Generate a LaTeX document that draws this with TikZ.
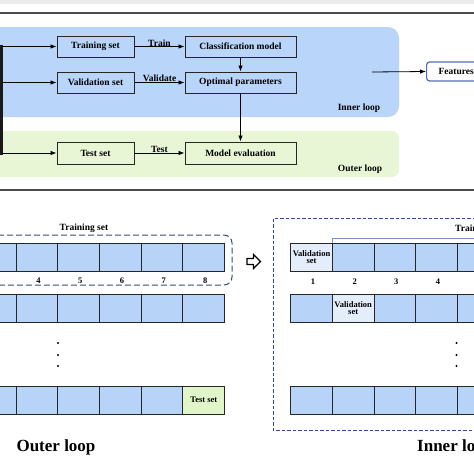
\documentclass[tikz,border=0pt]{standalone}
\usepackage{fontspec}
\setmainfont{Liberation Serif}
\usetikzlibrary{arrows.meta}
\definecolor{regblue}{HTML}{B9D5F9}
\definecolor{reggreen}{HTML}{E8F6D6}
\definecolor{cellblue}{HTML}{B7D3F7}
\definecolor{celllight}{HTML}{E4EEFB}
\definecolor{cellgreen}{HTML}{E0F5C8}
\definecolor{dashblue}{HTML}{3A4A7A}
\definecolor{innerblue}{HTML}{2A4AA0}
\definecolor{brk}{HTML}{7D8FC0}
\begin{document}
\begin{tikzpicture}[x=1pt,y=-1pt,
  box/.style={draw=black!85, line width=1pt, minimum height=21pt, inner sep=0pt,
    font=\bfseries\fontsize{9.5}{11}\selectfont},
  lbl/.style={font=\bfseries\fontsize{9.5}{11}\selectfont, inner sep=1pt},
  arr/.style={-{Latex[length=6pt,width=4.5pt]}, line width=0.8pt, black},
  cell/.style={draw=black!85, line width=1pt, fill=cellblue, minimum width=41.67pt,
    minimum height=28pt, inner sep=0pt, align=center,
    font=\bfseries\fontsize{8.5}{8.5}\selectfont},
  num/.style={font=\bfseries\fontsize{8.5}{10}\selectfont, inner sep=0pt},
  big/.style={font=\bfseries\fontsize{17}{20}\selectfont, inner sep=0pt}]
\useasboundingbox (0,0) rectangle (474,474);
\clip (0,0) rectangle (474,474);
% frame
\fill[black!8] (0,0) rectangle (474,4);
\draw[black!70, line width=1.2pt] (0,13) -- (474,13);
\draw[black!70, line width=1.2pt] (0,190) -- (474,190);
% regions
\fill[regblue, rounded corners=11pt] (-20,27) rectangle (399,117);
\fill[reggreen, rounded corners=7pt] (-20,131) rectangle (399,177);
% boxes
\node[box, minimum width=77pt] (tr) at (95.5,46.5) {Training set};
\node[box, minimum width=77pt] (va) at (95.5,82.5) {Validation set};
\node[box, minimum width=77pt, minimum height=22pt] (te) at (95.5,153) {Test set};
\node[box, minimum width=111pt] (cm) at (240.5,46.5) {Classification model};
\node[box, minimum width=111pt] (op) at (240.5,82.5) {Optimal parameters};
\node[box, minimum width=111pt, minimum height=22pt] (me) at (240.5,153) {Model evaluation};
\coordinate (s1) at (1.5,46.5);
\coordinate (s2) at (1.5,82.5);
\coordinate (s3) at (1.5,153);
\draw[line width=3pt, black!90] (1.5,45) -- (1.5,154.5);
\draw[arr] (s1) -- (tr.west);
\draw[arr] (s2) -- (va.west);
\draw[arr] (s3) -- (te.west);
\draw[arr] (tr) -- node[lbl, above, yshift=-1pt] {Train} (cm);
\draw[arr] (va) -- node[lbl, above, yshift=-1pt] {Validate} (op);
\draw[arr] (te) -- node[lbl, above, yshift=-1pt] {Test} (me);
\draw[arr] (cm) -- (op);
\draw[arr] (op) -- (me);
\node[lbl] (il) at (359,108) {Inner loop};
\node[lbl] (ol) at (360,169) {Outer loop};
\node[draw=innerblue!80, line width=1.2pt, fill=white, rounded corners=3pt,
  minimum height=19pt, minimum width=66pt, anchor=west, inner sep=0pt,
  font=\bfseries\fontsize{9.5}{11}\selectfont, text width=60pt, align=left] (fe) at (426,71.5) {\hspace*{9pt}Features};
\coordinate (fs) at (372,72);
\draw[arr] (fs) -- (fe.west);
% ---- bottom left: outer loop
\draw[dashblue, line width=1pt, dash pattern=on 6pt off 3pt, rounded corners=8pt]
  (-20,235) -- (232,235) -- (232,285) -- (-20,285);
\node[lbl] (tsl) at (84,228) {Training set};
\foreach \k in {1,...,8} {
  \node[cell] (a\k) at ({183-(8-\k)*41.67+20.83},257) {};
  \node[cell] (b\k) at ({183-(8-\k)*41.67+20.83},308) {};
}
\foreach \k in {1,...,7} {
  \node[cell] (c\k) at ({183-(8-\k)*41.67+20.83},400) {};
}
\node[cell, fill=cellgreen] (c8) at (203.83,400) {Test set};
\foreach \k in {4,...,8} {
  \node[num] (na\k) at ({183-(8-\k)*41.67+22.3},281) {\k};
}
\foreach \yy in {343,355,366} { \fill (58,\yy) circle (1.2pt); }
\node[big] (olb) at (56,447) {Outer loop};
% hollow arrow
\draw[black, line width=1.1pt, line join=miter]
  (247,258.5) -- (253.5,258.5) -- (253.5,254.5) -- (260.5,261.5) -- (253.5,268.5)
  -- (253.5,264.5) -- (247,264.5) -- cycle;
% ---- bottom right: inner loop
\draw[innerblue, line width=1pt, dash pattern=on 3.5pt off 2pt]
  (520,218) -- (273,218) -- (273,430) -- (520,430);
\foreach \k in {1,...,5} {
  \node[cell] (d\k) at ({290.67+(\k-1)*41.67+20.83},257) {};
  \node[cell] (e\k) at ({290.67+(\k-1)*41.67+20.83},308) {};
  \node[cell] (f\k) at ({290.67+(\k-1)*41.67+20.83},400) {};
}
\node[cell, fill=celllight] at (d1) {Validation\\[-1pt]set};
\node[cell, fill=celllight] at (e2) {Validation\\[-1pt]set};
\foreach \k in {1,...,4} {
  \node[num] (nd\k) at ({290.67+(\k-1)*41.67+22.3},282) {\k};
}
\draw[brk, line width=1pt] (332.67,243) -- (332.67,238.5) -- (480,238.5);
\node[lbl, anchor=west] (trl) at (454,229) {Training set};
\foreach \yy in {343,355,366} { \fill (456.5,\yy) circle (1.2pt); }
\node[big, anchor=west] (ilb) at (417,447) {Inner loop};
\end{tikzpicture}
\end{document}
